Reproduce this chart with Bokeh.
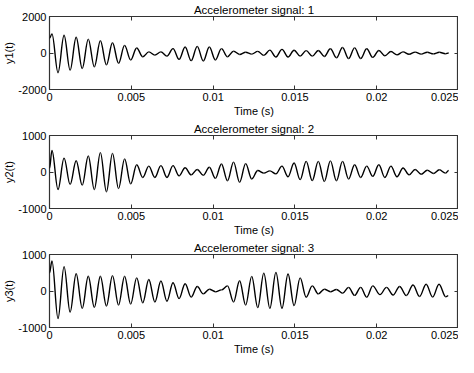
from bokeh.plotting import figure
from bokeh.layouts import column
from bokeh.models import ColumnDataSource, FixedTicker, LinearAxis, Range1d
from bokeh.embed import file_html
from bokeh.resources import INLINE

# ---- data: extremum times (ms) and values ----
time_ms = [0.0, 0.15, 0.52, 0.89, 1.26, 1.63, 2.00, 2.37, 2.74, 3.11, 3.48, 3.85, 4.22,
           4.59, 4.96, 5.33, 5.70, 6.07, 6.44, 6.81, 7.18, 7.55, 7.92, 8.29, 8.66,
           9.03, 9.40, 9.77, 10.14, 10.51, 10.88, 11.25, 11.62, 11.99, 12.36, 12.73,
           13.10, 13.47, 13.84, 14.21, 14.58, 14.95, 15.32, 15.69, 16.06, 16.43, 16.80,
           17.17, 17.54, 17.91, 18.28, 18.65, 19.02, 19.39, 19.76, 20.13, 20.50, 20.87,
           21.24, 21.61, 21.98, 22.35, 22.72, 23.09, 23.46, 23.83, 24.20, 24.40]

time3_ms = [0.0, 0.15, 0.52, 0.89, 1.26, 1.63, 2.00, 2.37, 2.74, 3.11, 3.48, 3.85, 4.22,
            4.59, 4.96, 5.33, 5.70, 6.07, 6.44, 6.81, 7.18, 7.55, 7.92, 8.29, 8.66,
            9.03, 9.40, 9.77, 10.14, 10.51, 10.88, 11.25, 11.62, 11.99, 12.36, 12.73,
            13.10, 13.47, 13.84, 14.21, 14.58, 14.95, 15.32, 15.69, 16.06, 16.43, 16.80,
            17.17, 17.54, 17.91, 18.28, 18.65, 19.02, 19.39, 19.76, 20.20, 20.60, 21.00,
            21.40, 21.81, 22.22, 22.62, 23.02, 23.42, 23.81, 24.22, 24.37]

y1_values = [800,
             1050, -1080, 970, -940, 860, -850, 760, -760, 670, -650, 560, -560,
             420, -380, 276, -205, 60, -115, 60, -170, 240, -350, 330, -420,
             365, -435, 330, -380, 240, -205, 100, -80, 40, -60, 90, -130,
             160, -220, 200, -220, 150, -170, 130, -170, 140, -190, 230, -260,
             300, -310, 280, -300, 230, -240, 140, -150, 80, -100, 60, -70,
             50, -60, 45, -50, 40, -40,
             0]

y2_values = [100,
             590, -480, 380, -340, 310, -360, 440, -480, 530, -540, 509, -456,
             360, -325, 200, -150, 160, -150, 175, -150, 175, -105, 115, -80,
             70, -90, 130, -175, 220, -240, 270, -280, 230, -190, 40, -30,
             30, -50, 160, -130, 245, -210, 290, -235, 290, -260, 305, -240,
             290, -190, 200, -150, 160, -120, 200, -150, 160, -130, 110, -80,
             70, -60, 50, -40, 60, -30,
             40]

y3_values = [490,
             824, -754, 667, -580, 474, -474, 403, -447, 403, -412, 420, -386,
             403, -360, 360, -325, 315, -300, 272, -280, 228, -210, 200, -167,
             123, -80, 50, -20, 30, 140, -300, 280, -386, 400, -456, 490,
             -475, 510, -475, 465, -400, 360, -170, 140, -80, 50, -20, 40,
             -60, 100, -120, 100, -170, 140,
             -100, 100, -110, 125, -125, 165, -150, 185, -165, 185, -160,
             -130]

titles = ["Accelerometer signal: 1", "Accelerometer signal: 2", "Accelerometer signal: 3"]
y_axis_labels = ["y1(t)", "y2(t)", "y3(t)"]
x_axis_label = "Time (s)"

x_ticks = [0, 0.005, 0.01, 0.015, 0.02, 0.025]
x_tick_labels = ["0", "0.005", "0.01", "0.015", "0.02", "0.025"]
y_ticks_1 = [-2000, 0, 2000]
y_tick_labels_1 = ["-2000", "0", "2000"]
y_ticks_23 = [-1000, 0, 1000]
y_tick_labels_23 = ["-1000", "0", "1000"]

FONT = "Liberation Sans"
FS = "11px"
FRAME = "#333333"


def curve_source(t_ms, v):
    t = [x / 1000.0 for x in t_ms]
    x0, x1 = t[:-1], t[1:]
    v0, v1 = v[:-1], v[1:]
    k = 0.3634
    cx0 = [a + k * (b - a) for a, b in zip(x0, x1)]
    cx1 = [b - k * (b - a) for a, b in zip(x0, x1)]
    return ColumnDataSource(dict(x0=x0, y0=v0, x1=x1, y1=v1,
                                 cx0=cx0, cy0=v0, cx1=cx1, cy1=v1))


def style_axis(ax, ticks, labels, show_labels=True):
    ax.ticker = FixedTicker(ticks=ticks)
    ax.major_label_overrides = {tk: lb for tk, lb in zip(ticks, labels)}
    ax.major_tick_in = 4
    ax.major_tick_out = 0
    ax.minor_tick_in = 0
    ax.minor_tick_out = 0
    ax.major_tick_line_color = FRAME
    ax.axis_line_color = None
    ax.major_label_text_font = FONT
    ax.major_label_text_color = "black"
    if show_labels:
        ax.major_label_text_font_size = FS
        ax.major_label_standoff = 3
    else:
        ax.major_label_text_font_size = "0px"
        ax.major_label_standoff = 0


def panel(title, ylab, t_ms, values, yrange, yticks, ylabels):
    p = figure(width=458, height=119, output_backend="svg", toolbar_location=None,
               x_range=Range1d(0, 0.025), y_range=Range1d(*yrange),
               min_border_left=0, min_border_right=0, min_border_top=0,
               min_border_bottom=0)
    p.title.text = title
    p.title.align = "center"
    p.title.text_font = FONT
    p.title.text_font_size = "11.5px"
    p.title.text_font_style = "normal"
    p.title.text_color = "black"
    p.title.standoff = 2
    p.grid.visible = False
    p.outline_line_color = FRAME
    p.outline_line_alpha = 1
    p.outline_line_width = 1.2
    p.background_fill_color = "white"
    p.border_fill_color = "white"

    style_axis(p.xaxis[0], x_ticks, x_tick_labels)
    p.xaxis[0].axis_label = x_axis_label
    p.xaxis[0].axis_label_text_font = FONT
    p.xaxis[0].axis_label_text_font_size = FS
    p.xaxis[0].axis_label_text_font_style = "normal"
    p.xaxis[0].axis_label_text_color = "black"
    p.xaxis[0].axis_label_standoff = 1

    style_axis(p.yaxis[0], yticks, ylabels)
    p.yaxis[0].axis_label = ylab
    p.yaxis[0].axis_label_text_font = FONT
    p.yaxis[0].axis_label_text_font_size = FS
    p.yaxis[0].axis_label_text_font_style = "normal"
    p.yaxis[0].axis_label_text_color = "black"
    p.yaxis[0].axis_label_standoff = 0

    top = LinearAxis()
    style_axis(top, x_ticks, ["" for _ in x_ticks], show_labels=False)
    p.add_layout(top, "above")
    right = LinearAxis()
    style_axis(right, yticks, ["" for _ in yticks], show_labels=False)
    p.add_layout(right, "right")

    src = curve_source(t_ms, values)
    p.bezier(x0="x0", y0="y0", x1="x1", y1="y1", cx0="cx0", cy0="cy0",
             cx1="cx1", cy1="cy1", source=src, line_color="black", line_width=1.4)
    return p


p1 = panel(titles[0], y_axis_labels[0], time_ms, y1_values, (-2000, 2000), y_ticks_1, y_tick_labels_1)
p2 = panel(titles[1], y_axis_labels[1], time_ms, y2_values, (-1000, 1000), y_ticks_23, y_tick_labels_23)
p3 = panel(titles[2], y_axis_labels[2], time3_ms, y3_values, (-1000, 1000), y_ticks_23, y_tick_labels_23)

layout = column(p1, p2, p3, spacing=0)
open("out.html", "w").write(file_html(layout, INLINE))
